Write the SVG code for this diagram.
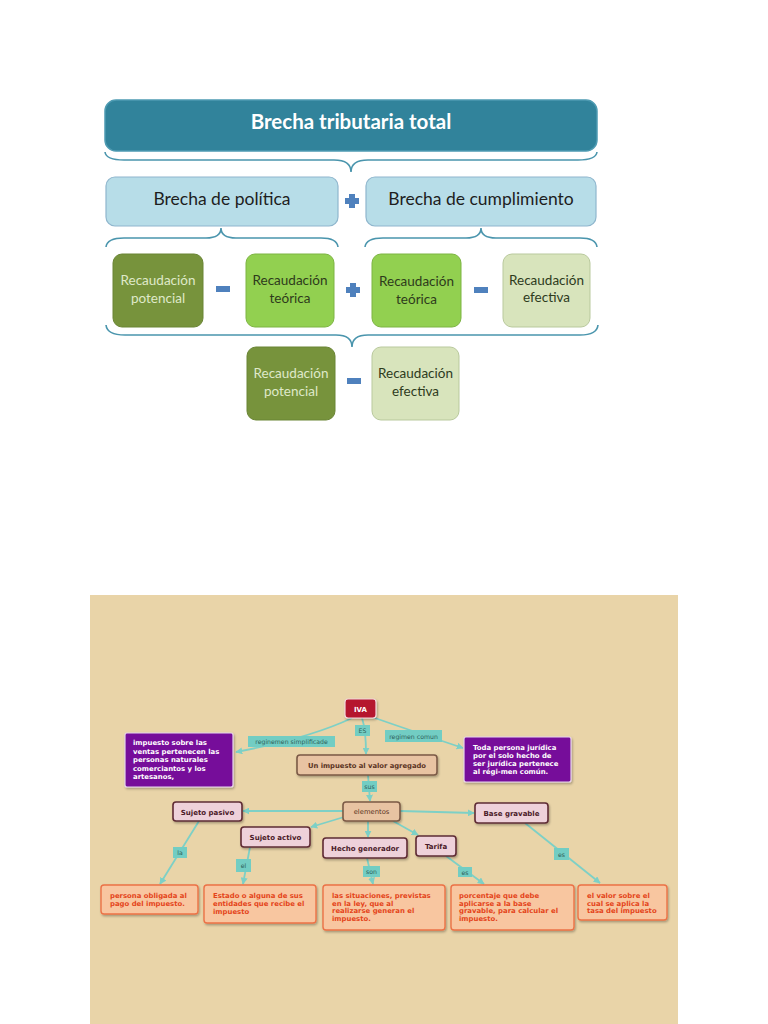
<svg xmlns="http://www.w3.org/2000/svg" width="768" height="1024" viewBox="0 0 768 1024">
<defs>
<style>
.t{font-family:Lato,"Open Sans","Liberation Sans",sans-serif;text-anchor:middle}
.brace{fill:none;stroke:#4a95ad;stroke-width:1.6}
.op{fill:#4f81bd}
.dark{fill:#77933c;stroke:#6a8535;stroke-width:1}
.lg{fill:#92d050;stroke:#7db443;stroke-width:1}
.pale{fill:#d8e4bc;stroke:#b9c99d;stroke-width:1}
.tl{fill:#dfe9c9;font-size:13.5px}
.td{fill:#2e3b1c;font-size:13.5px}
.m{font-family:"DejaVu Sans",Verdana,sans-serif}
.b{font-weight:bold}
.con{fill:none;stroke:#7dd0c6;stroke-width:1.8}
.lab rect{fill:#72cdc3}
.lab text{fill:#2f5f5a;font-size:6.2px;text-anchor:middle}
.pk rect{fill:#eed1da;stroke:#5e2b34;stroke-width:1.6}
.pk text{fill:#4a1a28;font-size:7px;font-weight:bold;text-anchor:middle}
.tan rect{fill:#e8c3a2;stroke:#7b5a46;stroke-width:1.6}
.tan text{fill:#5a3322;font-size:6.8px;text-anchor:middle}
.pu rect{fill:#76109a;stroke:#e7d3ec;stroke-width:1.2}
.pu text{fill:#ffffff;font-size:6.9px;font-weight:bold}
.or rect{fill:#f8c6a0;stroke:#ec7246;stroke-width:1.4}
.or text{fill:#e4441a;font-size:6.9px;font-weight:bold}
</style>
<marker id="ar" viewBox="0 0 10 10" refX="9" refY="5" markerWidth="7" markerHeight="7" orient="auto" markerUnits="userSpaceOnUse">
<path d="M0,0 L10,5 L0,10 z" fill="#7dd0c6"/>
</marker>
<filter id="sh" x="-10%" y="-10%" width="130%" height="140%">
<feDropShadow dx="1" dy="1.5" stdDeviation="0.8" flood-color="#000" flood-opacity="0.3"/>
</filter>
</defs>
<rect x="0" y="0" width="768" height="1024" fill="#ffffff"/>

<!-- TOP DIAGRAM -->
<g id="title">
<rect x="105" y="100" width="492" height="51" rx="11" fill="#31839b" stroke="#4e9bb2" stroke-width="1.5"/>
<text class="t" x="351" y="129" font-size="20.5" font-weight="bold" fill="#ffffff">Brecha tributaria total</text>
</g>
<g id="braces">
<path class="brace" d="M105,152 Q106,160 124,160 L334,160 Q351,160 351,172 Q351,160 368,160 L578,160 Q596,160 597,152"/>
<path class="brace" d="M106,247 Q107,238 124,238 L206,238 Q221,238 221,228 Q221,238 236,238 L321,238 Q337,238 338,247"/>
<path class="brace" d="M365,247 Q366,238 383,238 L466,238 Q481,238 481,228 Q481,238 496,238 L580,238 Q596,238 597,247"/>
<path class="brace" d="M106,325 Q107,335 125,335 L336,335 Q352,335 352,347 Q352,335 368,335 L580,335 Q597,335 598,325"/>
</g>
<g id="politica">
<rect x="106" y="177" width="232" height="49" rx="9" fill="#b7dde8" stroke="#8fb6cd" stroke-width="1.2"/>
<text class="t" x="222" y="205" font-size="17.5" fill="#1e1e1e">Brecha de política</text>
</g>
<g id="cumplimiento">
<rect x="366" y="177" width="230" height="49" rx="9" fill="#b7dde8" stroke="#8fb6cd" stroke-width="1.2"/>
<text class="t" x="481" y="205" font-size="17.5" fill="#1e1e1e">Brecha de cumplimiento</text>
</g>
<g id="ops">
<path class="op" d="M349,194 h6 v4 h4 v6 h-4 v4 h-6 v-4 h-4 v-6 h4 z"/>
<rect class="op" x="216" y="286" width="14" height="6"/>
<path class="op" d="M350,283 h6 v4 h4 v6 h-4 v4 h-6 v-4 h-4 v-6 h4 z"/>
<rect class="op" x="474" y="287" width="14" height="6"/>
<rect class="op" x="347" y="378" width="14" height="6"/>
</g>
<g id="r1">
<rect class="dark" x="113" y="254" width="90" height="73" rx="9"/>
<text class="t tl" x="158" y="285">Recaudación</text>
<text class="t tl" x="158" y="303">potencial</text>
</g>
<g id="r2">
<rect class="lg" x="246" y="254" width="88" height="73" rx="9"/>
<text class="t td" x="290" y="285">Recaudación</text>
<text class="t td" x="290" y="303">teórica</text>
</g>
<g id="r3">
<rect class="lg" x="372" y="254" width="89" height="73" rx="9"/>
<text class="t td" x="416.5" y="286">Recaudación</text>
<text class="t td" x="416.5" y="304">teórica</text>
</g>
<g id="r4">
<rect class="pale" x="503" y="254" width="87" height="73" rx="9"/>
<text class="t td" x="546.5" y="285">Recaudación</text>
<text class="t td" x="546.5" y="302">efectiva</text>
</g>
<g id="r5">
<rect class="dark" x="247" y="347" width="88" height="73" rx="9"/>
<text class="t tl" x="291" y="378">Recaudación</text>
<text class="t tl" x="291" y="396">potencial</text>
</g>
<g id="r6">
<rect class="pale" x="372" y="347" width="87" height="73" rx="9"/>
<text class="t td" x="415.5" y="378">Recaudación</text>
<text class="t td" x="415.5" y="396">efectiva</text>
</g>

<!-- BOTTOM CONCEPT MAP -->
<rect id="map-bg" x="90" y="595" width="588" height="429" fill="#e9d4a8"/>
<g id="connectors" class="con">
<path d="M352,718 Q310,738 236,752" marker-end="url(#ar)"/>
<path d="M372,717 Q415,732 463,748" marker-end="url(#ar)"/>
<path d="M362,718 Q366,730 366,754" marker-end="url(#ar)"/>
<path d="M368,775 L370,801" marker-end="url(#ar)"/>
<path d="M343,811 L243,811" marker-end="url(#ar)"/>
<path d="M400,811 L474,813" marker-end="url(#ar)"/>
<path d="M344,817 L311,827" marker-end="url(#ar)"/>
<path d="M368,821 L368,837" marker-end="url(#ar)"/>
<path d="M393,821 L418,835" marker-end="url(#ar)"/>
<path d="M199,821 L160,884" marker-end="url(#ar)"/>
<path d="M250,847 L243,884" marker-end="url(#ar)"/>
<path d="M367,858 L373,884" marker-end="url(#ar)"/>
<path d="M446,856 L484,884" marker-end="url(#ar)"/>
<path d="M525,823 L600,883" marker-end="url(#ar)"/>
</g>
<g id="labels" class="m">
<g class="lab"><rect x="355" y="725" width="15" height="11"/><text x="362.5" y="733">ES</text></g>
<g class="lab"><rect x="385" y="730" width="57" height="12"/><text x="413.5" y="738.5">regimen comun</text></g>
<g class="lab"><rect x="248" y="736" width="87" height="11"/><text x="291.5" y="744">reginemen simplificade</text></g>
<g class="lab"><rect x="362" y="781" width="15" height="11"/><text x="369.5" y="789">sus</text></g>
<g class="lab"><rect x="173" y="847" width="14" height="11"/><text x="180" y="855">la</text></g>
<g class="lab"><rect x="236" y="859" width="15" height="13"/><text x="243.5" y="868">el</text></g>
<g class="lab"><rect x="363" y="866" width="17" height="11"/><text x="371.5" y="874">son</text></g>
<g class="lab"><rect x="458" y="867" width="14" height="10"/><text x="465" y="874.5">es</text></g>
<g class="lab"><rect x="554" y="848" width="15" height="12"/><text x="561.5" y="856.5">es</text></g>
</g>
<g id="iva" class="m">
<rect x="345" y="699" width="31" height="19" rx="3" fill="#b5122e" stroke="#f3d9dc" stroke-width="1.2" filter="url(#sh)"/>
<text x="360.5" y="712" font-size="7" font-weight="bold" fill="#ffffff" text-anchor="middle">IVA</text>
</g>
<g id="simplificado" class="m pu">
<rect x="125" y="733" width="108" height="54" rx="2" filter="url(#sh)"/>
<text x="133" y="745">impuesto sobre las</text>
<text x="133" y="753.5">ventas pertenecen las</text>
<text x="133" y="762">personas  naturales</text>
<text x="133" y="770.5">comerciantos  y  los</text>
<text x="133" y="779">artesanos,</text>
</g>
<g id="comun" class="m pu">
<rect x="464" y="737" width="107" height="45" rx="2" filter="url(#sh)"/>
<text x="473" y="750">Toda persona jurídica</text>
<text x="473" y="758">por el solo hecho de</text>
<text x="473" y="766">ser jurídica pertenece</text>
<text x="473" y="774">al régi-men común.</text>
</g>
<g id="impuesto" class="m tan">
<rect x="297" y="755" width="140" height="20" rx="3" filter="url(#sh)"/>
<text x="367" y="768" font-weight="bold" textLength="118">Un impuesto al valor agregado</text>
</g>
<g id="elementos" class="m tan">
<rect x="343" y="802" width="57" height="19" rx="3" filter="url(#sh)"/>
<text x="371.5" y="814">elementos</text>
</g>
<g id="sujeto-pasivo" class="m pk">
<rect x="173" y="802" width="69" height="19" rx="3" filter="url(#sh)"/>
<text x="207.5" y="814.5">Sujeto pasivo</text>
</g>
<g id="base-gravable" class="m pk">
<rect x="475" y="803" width="73" height="20" rx="3" filter="url(#sh)"/>
<text x="511.5" y="816">Base gravable</text>
</g>
<g id="sujeto-activo" class="m pk">
<rect x="241" y="827" width="69" height="20" rx="3" filter="url(#sh)"/>
<text x="275.5" y="840">Sujeto activo</text>
</g>
<g id="hecho-generador" class="m pk">
<rect x="323" y="838" width="84" height="20" rx="3" filter="url(#sh)"/>
<text x="365" y="851">Hecho generador</text>
</g>
<g id="tarifa" class="m pk">
<rect x="416" y="836" width="40" height="20" rx="3" filter="url(#sh)"/>
<text x="436" y="849">Tarifa</text>
</g>
<g id="def-pasivo" class="m or">
<rect x="101" y="885" width="97" height="29" rx="3" filter="url(#sh)"/>
<text x="110" y="898">persona obligada al</text>
<text x="110" y="906">pago del impuesto.</text>
</g>
<g id="def-activo" class="m or">
<rect x="204" y="885" width="112" height="38" rx="3" filter="url(#sh)"/>
<text x="213" y="898">Estado o alguna de sus</text>
<text x="213" y="906">entidades que recibe el</text>
<text x="213" y="914">impuesto</text>
</g>
<g id="def-hecho" class="m or">
<rect x="323" y="885" width="122" height="45" rx="3" filter="url(#sh)"/>
<text x="332" y="898">las situaciones, previstas</text>
<text x="332" y="905.5">en la ley, que al</text>
<text x="332" y="913">realizarse generan el</text>
<text x="332" y="920.5">impuesto.</text>
</g>
<g id="def-tarifa" class="m or">
<rect x="451" y="885" width="123" height="45" rx="3" filter="url(#sh)"/>
<text x="459" y="898">porcentaje que debe</text>
<text x="459" y="905.5">aplicarse a la base</text>
<text x="459" y="913">gravable, para calcular el</text>
<text x="459" y="920.5">impuesto.</text>
</g>
<g id="def-base" class="m or">
<rect x="578" y="885" width="89" height="35" rx="3" filter="url(#sh)"/>
<text x="587" y="898">el valor sobre el</text>
<text x="587" y="905.5">cual se aplica la</text>
<text x="587" y="913">tasa del impuesto</text>
</g>
</svg>
